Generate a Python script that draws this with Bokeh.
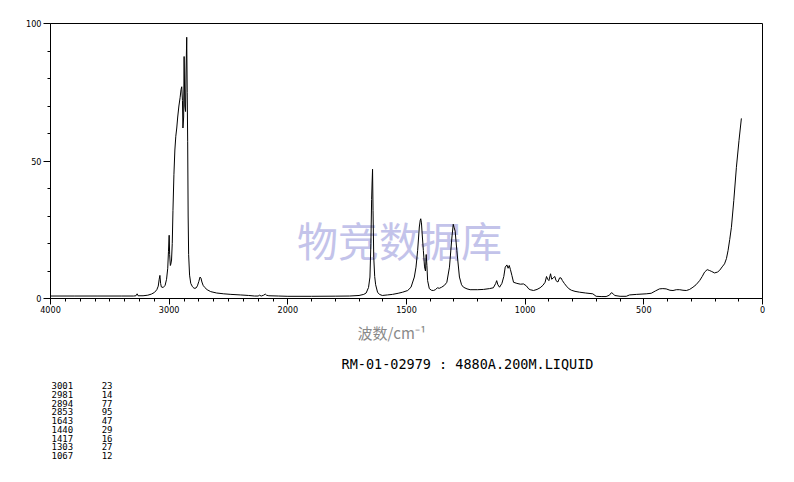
from bokeh.plotting import figure
from bokeh.layouts import column
from bokeh.models import Range1d, FixedTicker, Label
from bokeh.core.properties import value
from bokeh.embed import file_html
from bokeh.resources import INLINE

# ---- data ----
wavenumber = [
    4000, 3800, 3600, 3400, 3300, 3280, 3270, 3262, 3220, 3180, 3150, 3125, 3105, 3092, 3084, 3078,
    3073, 3066, 3050, 3035, 3022, 3013, 3006, 3001, 2997, 2991, 2986, 2981, 2975, 2968, 2960, 2952,
    2944, 2936, 2928, 2918, 2908, 2900, 2894, 2889, 2884, 2879, 2874, 2869, 2863, 2858, 2853, 2849,
    2845, 2841, 2836, 2828, 2818, 2805, 2790, 2775, 2762, 2750, 2740, 2732, 2724, 2714, 2700, 2680,
    2650, 2600, 2540, 2480, 2400, 2330, 2280, 2250, 2240, 2225, 2205, 2190, 2180, 2160, 2080,
    2000, 1900, 1800, 1740, 1700, 1680, 1670, 1660, 1654, 1650, 1647, 1645, 1643, 1641, 1638, 1634,
    1630, 1622, 1614, 1602, 1580, 1559, 1535, 1516, 1495, 1481, 1467, 1460, 1453, 1446, 1442, 1440,
    1437, 1434, 1429, 1424, 1420, 1417, 1414, 1411, 1404, 1395, 1387, 1378, 1370, 1362, 1352, 1340,
    1330, 1319, 1309, 1303, 1300, 1295, 1288, 1277, 1268, 1260, 1245, 1232, 1200, 1176, 1150, 1134,
    1124, 1120, 1115, 1108, 1098, 1090, 1084, 1077, 1072, 1067, 1062, 1056, 1049, 1035, 1020, 1007,
    995, 985, 979, 965, 950, 937, 925, 916, 910, 905, 900, 893, 888, 882, 875, 870, 862, 855, 849,
    843, 835, 826, 815, 805, 790, 771, 745, 715, 701, 680, 659, 645, 637, 630, 623, 600, 574, 560,
    530, 490, 469, 450, 434, 420, 406, 390, 377, 363, 349, 335, 321, 307, 293, 280, 265, 254, 244,
    233, 224, 216, 202, 190, 181, 170, 160, 152, 145, 138, 131, 121, 110, 99, 89,
]
intensity = [
    0.9, 0.9, 0.9, 0.9, 0.9, 1.0, 1.7, 1.0, 1.0, 1.2, 1.6, 2.2, 3.2, 4.5, 7.0, 8.4,
    5.5, 4.2, 4.0, 4.8, 7.0, 11, 17, 23, 16, 12, 12.5, 14, 20, 32, 45, 54,
    59, 62, 66, 70, 73, 76, 77, 72, 62, 66, 88, 70, 68, 82, 95, 75,
    57, 30, 16, 8.5, 5.5, 4.3, 3.7, 3.8, 4.6, 6.2, 7.8, 7.4, 6.0, 4.8, 4.0, 3.2,
    2.5, 2.0, 1.7, 1.5, 1.3, 1.1, 0.9, 0.9, 1.2, 0.9, 1.2, 1.6, 1.2, 1.0, 0.9,
    0.8, 0.8, 0.85, 0.9, 1.1, 1.5, 2.0, 4.0, 7.8, 20, 36, 42, 47, 32, 15, 8,
    5.0, 2.3, 1.5, 1.1, 1.3, 1.5, 1.9, 2.3, 2.9, 4.1, 7.8, 11.4, 17.5, 26, 28.5, 29,
    27.5, 23.5, 17.5, 11.5, 10, 16, 12, 6.5, 3.6, 3.0, 2.9, 3.2, 3.9, 3.7, 4.1, 4.8,
    5.9, 11.4, 22, 27, 26, 24.5, 17.5, 7.8, 5.0, 4.1, 3.5, 3.2, 3.2, 3.3, 3.6, 3.9,
    5.5, 6.5, 5.0, 4.1, 5.5, 8, 11.4, 12.2, 11, 12, 10.5, 8.4, 5.9, 5.5, 5.2, 5.3,
    4.6, 3.5, 3.2, 2.9, 3.3, 3.9, 4.8, 5.9, 8, 7, 6.5, 9, 7, 7.5, 8, 6.5, 6, 7.5, 7.5,
    6.5, 5.5, 4.5, 3.5, 3.0, 2.6, 2.3, 2.0, 1.7, 0.8, 0.7, 0.7, 1.2, 2.1, 1.8, 1.1, 0.8, 0.8, 1.3,
    1.5, 1.7, 1.9, 2.8, 3.5, 3.6, 3.5, 3.0, 2.9, 3.2, 3.2, 3.0, 2.9, 3.3, 4.1, 5.0, 6.5, 8.0, 9.6,
    10.5, 10.2, 9.9, 9.3, 9.6, 10.2, 11.5, 12.6, 14.5, 17.5, 21.5, 25.9, 35.6, 47.7, 57.5, 65.5,
]

x_tick_values = [4000, 3000, 2000, 1500, 1000, 500, 0]
x_tick_labels = ["4000", "3000", "2000", "1500", "1000", "500", "0"]
y_tick_values = [0, 50, 100]
y_minor_values = [10, 20, 30, 40, 60, 70, 80, 90]

peak_wn = ["3001", "2981", "2894", "2853", "1643", "1440", "1417", "1303", "1067"]
peak_int = ["23", "14", "77", "95", "47", "29", "16", "27", "12"]

title_text = "RM-01-02979 : 4880A.200M.LIQUID"
x_label_text = "波数/cm\u207b\u00b9"
watermark_text = "物竞数据库"


# the wavenumber axis is compressed 2x above 2000 cm-1
def to_plot_x(w):
    if w <= 2000:
        return w
    return 2000 + (w - 2000) // 2 if isinstance(w, int) else 2000 + (w - 2000) / 2


x_minor_wn = list(range(3875, 2000, -125)) + list(range(1900, 0, -100))

TICK_FONT = "Liberation Sans Narrow, DejaVu Sans Condensed, sans-serif"

p = figure(
    width=794, height=318,
    output_backend="svg", toolbar_location=None,
    x_range=Range1d(3000, 0), y_range=Range1d(0, 100),
    min_border_left=50, min_border_right=32, min_border_top=23, min_border_bottom=20,
    background_fill_color="white", border_fill_color="white",
)
p.xgrid.visible = False
p.ygrid.visible = False
p.outline_line_color = "black"
p.outline_line_alpha = 1.0
p.outline_line_width = 1

# watermark (behind the spectrum)
p.add_layout(Label(x=349, y=60, x_units="screen", y_units="screen", text=watermark_text,
                   text_align="center", text_baseline="middle", text_font_size="41px",
                   text_font="Noto Sans CJK SC", text_color="#c3c3ea", level="underlay"))

xs = [to_plot_x(w) for w in wavenumber]
p.line(xs, intensity, line_color="black", line_width=1)

# x axis
xa = p.xaxis[0]
xa.ticker = FixedTicker(ticks=[to_plot_x(t) for t in x_tick_values],
                        minor_ticks=[to_plot_x(t) for t in x_minor_wn])
xa.major_label_overrides = {to_plot_x(t): lab for t, lab in zip(x_tick_values, x_tick_labels)}
xa.major_tick_in = 0
xa.major_tick_out = 6
xa.minor_tick_in = 0
xa.minor_tick_out = 3
xa.major_label_standoff = 1
xa.axis_line_color = "black"
xa.major_tick_line_color = "black"
xa.minor_tick_line_color = "black"
xa.major_label_text_font = TICK_FONT
xa.major_label_text_font_size = "9px"
xa.major_label_text_color = "black"

# y axis
ya = p.yaxis[0]
ya.ticker = FixedTicker(ticks=y_tick_values, minor_ticks=y_minor_values)
ya.major_tick_in = 0
ya.major_tick_out = 7
ya.minor_tick_in = 0
ya.minor_tick_out = 3
ya.major_label_standoff = 2
ya.axis_line_color = "black"
ya.major_tick_line_color = "black"
ya.minor_tick_line_color = "black"
ya.major_label_text_font = TICK_FONT
ya.major_label_text_font_size = "9px"
ya.major_label_text_color = "black"
ya.major_label_orientation = "horizontal"

# ---- text area below the chart (its frame lines up with the chart frame: x = page pixels) ----
q = figure(
    width=794, height=164,
    output_backend="svg", toolbar_location=None,
    x_range=Range1d(50, 762), y_range=Range1d(482, 318),
    x_axis_type=None, y_axis_type=None,
    min_border_left=50, min_border_right=32, min_border_top=0, min_border_bottom=0,
    background_fill_color="white", border_fill_color="white",
)
q.xgrid.visible = False
q.ygrid.visible = False
q.outline_line_color = None

q.text(x=[391], y=[332], text=[x_label_text], text_align="center", text_baseline="middle",
       text_font=value("Noto Sans CJK SC"), text_font_size=value("15px"), text_color="#8a8a8a")
q.text(x=[341], y=[363], text=[title_text], text_align="left", text_baseline="middle",
       text_font=value("DejaVu Sans Mono"), text_font_size=value("13.5px"), text_color="black")

row_y = [385 + i * 8.75 for i in range(len(peak_wn))]
q.text(x=[51] * len(peak_wn), y=row_y, text=peak_wn, text_align="left", text_baseline="middle",
       text_font=value("DejaVu Sans Mono"), text_font_size=value("9px"), text_color="black")
q.text(x=[112] * len(peak_int), y=row_y, text=peak_int, text_align="right", text_baseline="middle",
       text_font=value("DejaVu Sans Mono"), text_font_size=value("9px"), text_color="black")

layout = column(p, q, spacing=0)
open("out.html", "w").write(file_html(layout, INLINE))
